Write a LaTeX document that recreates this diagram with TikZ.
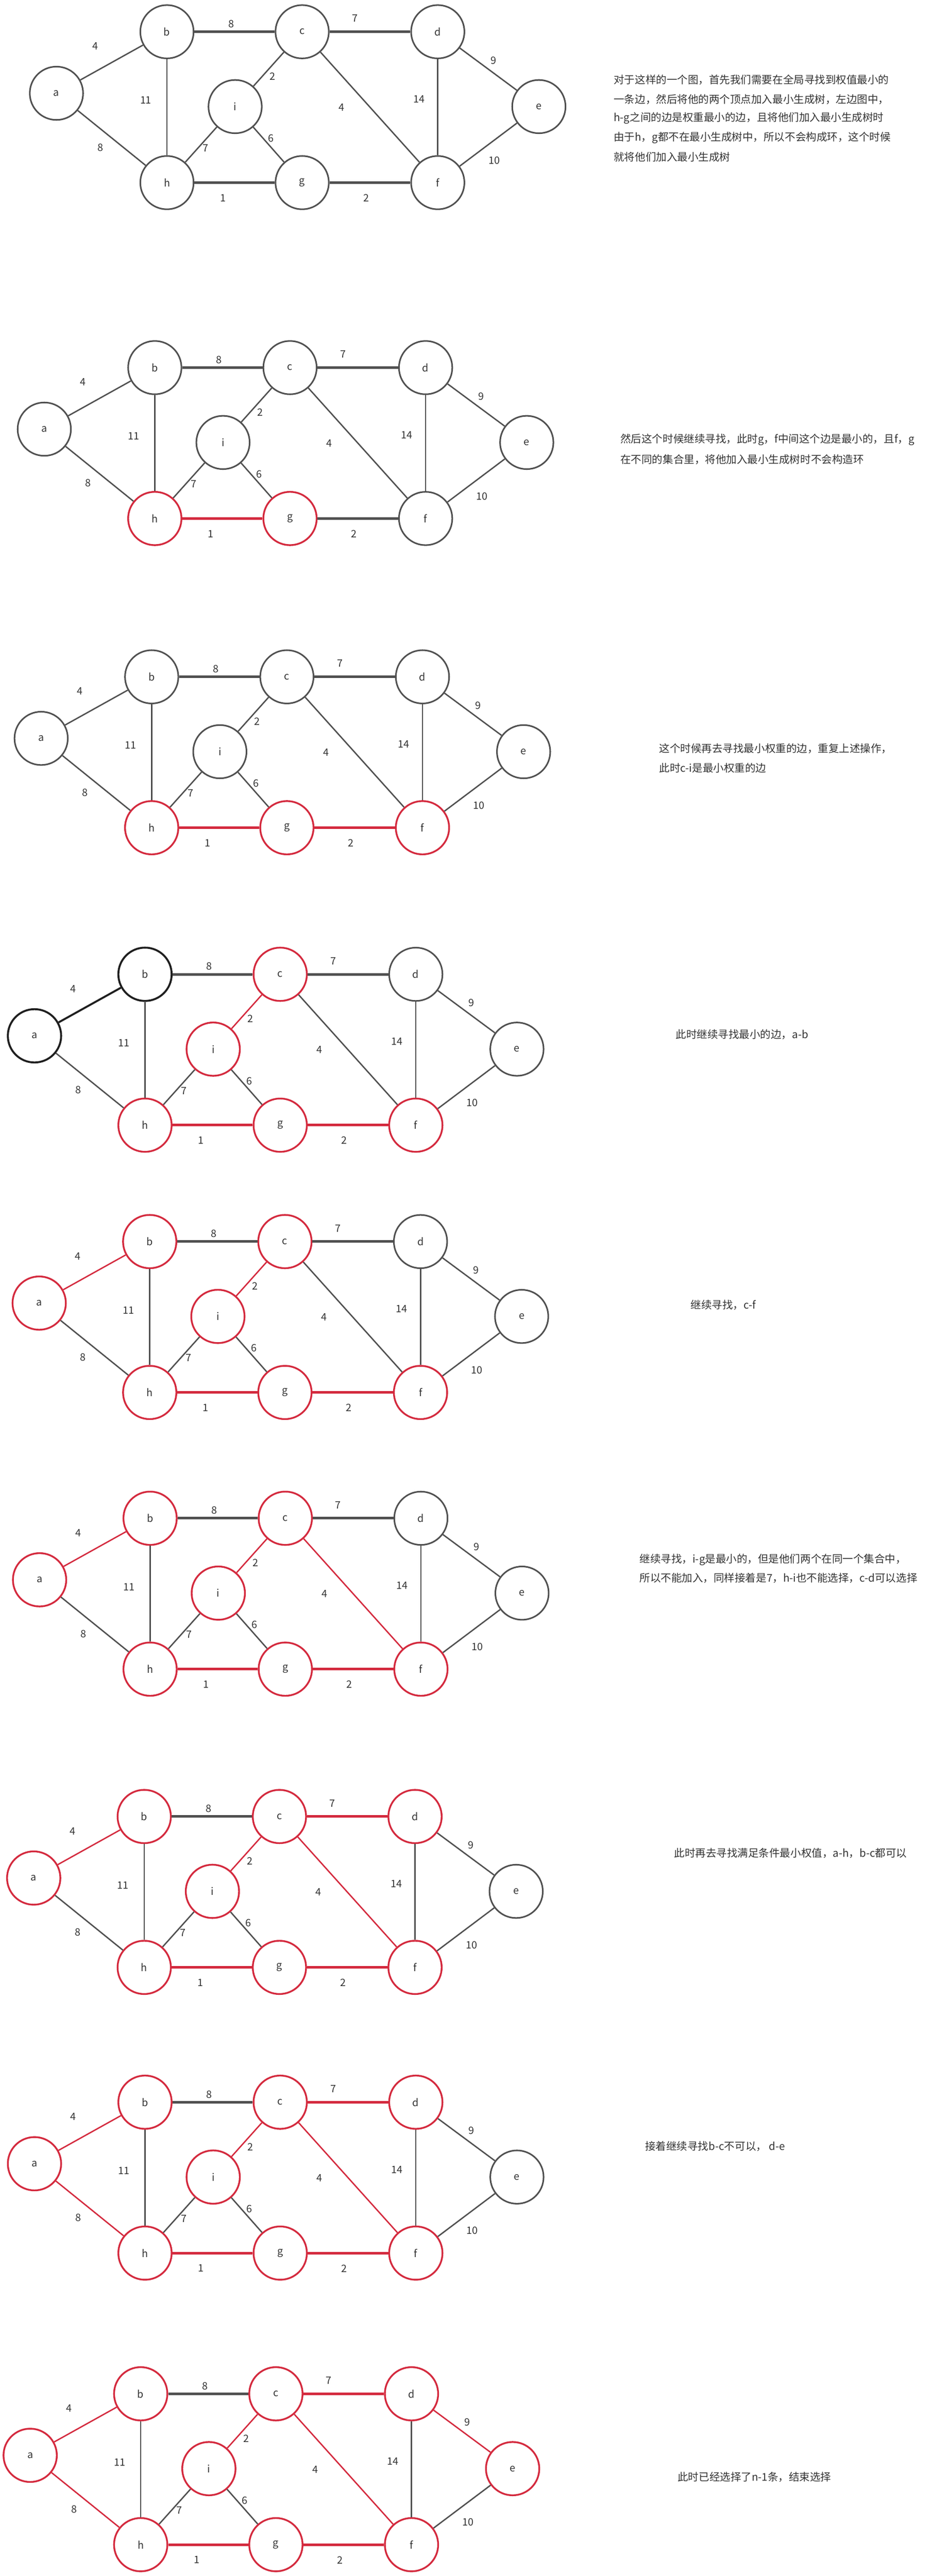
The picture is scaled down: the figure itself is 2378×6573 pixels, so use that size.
\documentclass[tikz,border=0pt]{standalone}
\usepackage{fontspec}
\newfontfamily\cjk{Noto Sans CJK SC}
\definecolor{eg}{HTML}{505050}
\definecolor{er}{HTML}{D42A3E}
\definecolor{tx}{HTML}{333333}
\tikzset{
 vtx/.style={circle,minimum size=136pt,inner sep=0pt,fill=white,font=\cjk\fontsize{26}{30}\selectfont,text=tx},
 gv/.style={draw=eg,line width=4pt},
 rv/.style={draw=er,line width=4.5pt},
 kv/.style={draw=black!88,line width=5pt},
 thn/.style={line width=3.5pt},
 thk/.style={line width=6.5pt},
 ge/.style={draw=eg},
 re/.style={draw=er},
 ke/.style={draw=black!88,line width=5pt},
 wl/.style={font=\cjk\fontsize{26}{30}\selectfont,text=tx,inner sep=0pt},
 para/.style={font=\cjk\fontsize{27}{30}\selectfont,text=tx,anchor=west,inner sep=0pt},
 reset/.style={sa/.style=gv,sb/.style=gv,sc/.style=gv,sd/.style=gv,se/.style=gv,sf/.style=gv,sg/.style=gv,sh/.style=gv,si/.style=gv,
  eab/.style=ge,ebc/.style=ge,ecd/.style=ge,ede/.style=ge,eef/.style=ge,efg/.style=ge,egh/.style=ge,eah/.style=ge,ebh/.style=ge,eci/.style=ge,ehi/.style=ge,egi/.style=ge,ecf/.style=ge,edf/.style=ge}
}
\newcommand\drawpanel[3]{%
\begin{scope}[shift={(#2,#3)}]
 \node[vtx,sa] (#1a) at (0,0) {a};
 \node[vtx,sb] (#1b) at (282,-157) {b};
 \node[vtx,sc] (#1c) at (627,-157) {c};
 \node[vtx,sd] (#1d) at (973,-157) {d};
 \node[vtx,se] (#1e) at (1231,34) {e};
 \node[vtx,si] (#1i) at (456,34) {i};
 \node[vtx,sh] (#1h) at (282,228) {h};
 \node[vtx,sg] (#1g) at (627,228) {g};
 \node[vtx,sf] (#1f) at (973,228) {f};
 \draw[thn,eab] (#1a) -- (#1b);
 \draw[thn,eah] (#1a) -- (#1h);
 \draw[thk,ebc] (#1b) -- (#1c);
 \draw[thk,ecd] (#1c) -- (#1d);
 \draw[thn,ede] (#1d) -- (#1e);
 \draw[thn,eef] (#1e) -- (#1f);
 \draw[thk,efg] (#1f) -- (#1g);
 \draw[thk,egh] (#1g) -- (#1h);
 \draw[thn,ebh] (#1b) -- (#1h);
 \draw[thn,eci] (#1c) -- (#1i);
 \draw[thn,ehi] (#1h) -- (#1i);
 \draw[thn,egi] (#1g) -- (#1i);
 \draw[thn,ecf] (#1c) -- (#1f);
 \draw[thn,edf] (#1d) -- (#1f);
 \node[wl] (#1l1) at (99,-120) {4};
 \node[wl] (#1l2) at (446,-177) {8};
 \node[wl] (#1l3) at (762,-191) {7};
 \node[wl] (#1l4) at (1115,-84) {9};
 \node[wl] (#1l5) at (551,-43) {2};
 \node[wl] (#1l6) at (228,18) {11};
 \node[wl] (#1l7) at (727,36) {4};
 \node[wl] (#1l8) at (925,15) {14};
 \node[wl] (#1l9) at (548,115) {6};
 \node[wl] (#1l10) at (381,140) {7};
 \node[wl] (#1l11) at (112,138) {8};
 \node[wl] (#1l12) at (1117,171) {10};
 \node[wl] (#1l13) at (425,267) {1};
 \node[wl] (#1l14) at (790,267) {2};
\end{scope}}
\begin{document}
\begin{tikzpicture}[x=1pt,y=-1pt]
\fill[white] (0,0) rectangle (2378,6573);
\useasboundingbox (0,0) rectangle (2378,6573);
% panel 1
\tikzset{reset}
\drawpanel{p1}{144}{238}
\node[para] (t1a) at (1566,204) {对于这样的一个图，首先我们需要在全局寻找到权值最小的};
\node[para] (t1b) at (1566,253) {一条边，然后将他的两个顶点加入最小生成树，左边图中，};
\node[para] (t1c) at (1566,302) {h-g之间的边是权重最小的边，且将他们加入最小生成树时};
\node[para] (t1d) at (1566,351) {由于h，g都不在最小生成树中，所以不会构成环，这个时候};
\node[para] (t1e) at (1566,400) {就将他们加入最小生成树};
% panel 2
\tikzset{reset,sh/.style=rv,sg/.style=rv,egh/.style=re}
\drawpanel{p2}{113}{1095}
\node[para] (t2a) at (1583,1122) {然后这个时候继续寻找，此时g，f中间这个边是最小的，且f，g};
\node[para] (t2b) at (1583,1172) {在不同的集合里，将他加入最小生成树时不会构造环};
% panel 3
\tikzset{reset,sh/.style=rv,sg/.style=rv,sf/.style=rv,egh/.style=re,efg/.style=re}
\drawpanel{p3}{105}{1884}
\node[para] (t3a) at (1682,1910) {这个时候再去寻找最小权重的边，重复上述操作，};
\node[para] (t3b) at (1682,1960) {此时c-i是最小权重的边};
% panel 4
\tikzset{reset,sa/.style=kv,sb/.style=kv,eab/.style=ke,sc/.style=rv,si/.style=rv,sh/.style=rv,sg/.style=rv,sf/.style=rv,eci/.style=re,egh/.style=re,efg/.style=re}
\drawpanel{p4}{88}{2643}
\node[para] (t4a) at (1724,2640) {此时继续寻找最小的边，a-b};
% panel 5
\tikzset{reset,sa/.style=rv,sb/.style=rv,sc/.style=rv,si/.style=rv,sh/.style=rv,sg/.style=rv,sf/.style=rv,eab/.style=re,eci/.style=re,egh/.style=re,efg/.style=re}
\drawpanel{p5}{100}{3325}
\node[para] (t5a) at (1762,3330) {继续寻找，c-f};
% panel 6
\tikzset{reset,sa/.style=rv,sb/.style=rv,sc/.style=rv,si/.style=rv,sh/.style=rv,sg/.style=rv,sf/.style=rv,eab/.style=re,eci/.style=re,egh/.style=re,efg/.style=re,ecf/.style=re}
\drawpanel{p6}{101}{4031}
\node[para] (t6a) at (1632,3980) {继续寻找，i-g是最小的，但是他们两个在同一个集合中，};
\node[para] (t6b) at (1632,4027) {所以不能加入，同样接着是7，h-i也不能选择，c-d可以选择};
% panel 7
\tikzset{reset,sa/.style=rv,sb/.style=rv,sc/.style=rv,sd/.style=rv,si/.style=rv,sh/.style=rv,sg/.style=rv,sf/.style=rv,eab/.style=re,eci/.style=re,egh/.style=re,efg/.style=re,ecf/.style=re,ecd/.style=re}
\drawpanel{p7}{86}{4792}
\node[para] (t7a) at (1720,4728) {此时再去寻找满足条件最小权值，a-h，b-c都可以};
% panel 8
\tikzset{reset,sa/.style=rv,sb/.style=rv,sc/.style=rv,sd/.style=rv,si/.style=rv,sh/.style=rv,sg/.style=rv,sf/.style=rv,eab/.style=re,eci/.style=re,egh/.style=re,efg/.style=re,ecf/.style=re,ecd/.style=re,eah/.style=re}
\drawpanel{p8}{88}{5521}
\node[para] (t8a) at (1646,5476) {接着继续寻找b-c不可以，\ d-e};
% panel 9
\tikzset{reset,sa/.style=rv,sb/.style=rv,sc/.style=rv,sd/.style=rv,se/.style=rv,si/.style=rv,sh/.style=rv,sg/.style=rv,sf/.style=rv,eab/.style=re,eci/.style=re,egh/.style=re,efg/.style=re,ecf/.style=re,ecd/.style=re,eah/.style=re,ede/.style=re}
\drawpanel{p9}{77}{6265}
\node[para] (t9a) at (1729,6320) {此时已经选择了n-1条，结束选择};
\end{tikzpicture}
\end{document}
